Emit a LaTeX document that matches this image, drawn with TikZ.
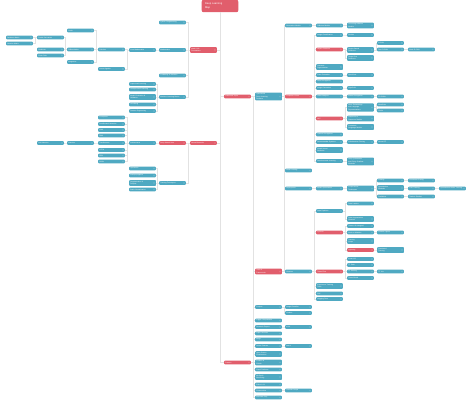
\documentclass[tikz,border=0pt]{standalone}
\usepackage{fontspec}
\setmainfont{Liberation Sans}
\usepackage{xcolor}

\definecolor{topicblue}{RGB}{79,169,194}
\definecolor{topicred}{RGB}{225,94,108}
\definecolor{linkgray}{RGB}{226,226,226}

\begin{document}
\begin{tikzpicture}[x=1pt, y=-1pt]
        % Define block styles
        \tikzstyle{topic} = [rectangle, rounded corners=0.8pt, fill=topicblue, text=white, anchor=west,
            inner xsep=1.2pt, inner ysep=1pt, minimum height=3.6pt, text width=24.3pt, align=left,
            font=\fontsize{1.7}{2.3}\selectfont,
            path picture={\draw[white, line width=0.15pt] ([xshift=-1.8pt, yshift=0.5pt]path picture bounding box.east) -- ++(0.5pt,-0.5pt) -- ++(-0.5pt,-0.5pt);}]
        \tikzstyle{hot} = [topic, fill=topicred]
        \tikzstyle{title} = [rectangle, rounded corners=2pt, fill=topicred, text=white, minimum width=36pt,
            minimum height=12pt, text width=30pt, align=left, font=\fontsize{2.6}{3.4}\selectfont]
        \tikzstyle{link} = [draw=linkgray, line width=0.35pt]
        \tikzstyle{rline} = [link, to path={(\tikztostart.east) -- ++(2pt,0) |- (\tikztotarget.west)}]
        \tikzstyle{lline} = [link, to path={(\tikztostart.west) -- ++(-2pt,0) |- (\tikztotarget.east)}]

        \useasboundingbox (0,0) rectangle (474,403);

        % Root
        \node [title] (root) at (220,6) {Deep Learning\\Map};

        % Left branch: foundations
        \node [hot] (fnd) at (190,50) {Math \& ML\\Foundations};
        \node [topic] (prog) at (159,22.5) {Python Programming};
        \node [topic] (maths) at (159,50) {Mathematics};
        \node [topic] (stats) at (159,75.5) {Probability \& Statistics};
        \node [topic] (mlbas) at (159,97) {Machine Learning Basics};
        \node [topic] (coremath) at (129,50) {Core Mathematics};
        \node [topic] (calc) at (98,49.5) {Calculus};
        \node [topic] (linalg) at (98,69) {Linear Algebra};
        \node [topic] (limits) at (67,30.5) {Limits};
        \node [topic] (diff) at (67,49.5) {Differentiation};
        \node [topic] (integ) at (67,62) {Integration};
        \node [topic] (partial) at (37,37.5) {Partial Derivatives};
        \node [topic] (grad) at (37,49.5) {Gradients};
        \node [topic] (chain) at (37,55.5) {Chain Rule};
        \node [topic] (jacob) at (6,37.5) {Jacobian Matrix};
        \node [topic] (hess) at (6,43.5) {Hessian Matrix};
        \node [topic] (superv) at (129,84) {Supervised Learning};
        \node [topic] (unsup) at (129,89.5) {Unsupervised Learning};
        \node [topic] (evalu) at (129,97) {Model Evaluation \&\\Validation};
        \node [topic] (overfit) at (129,104.5) {Overfitting};
        \node [topic] (feat) at (129,111) {Feature Engineering};

        % Left branch: networks
        \node [hot] (nets) at (190,143) {Neural Networks};
        \node [hot] (deepnn) at (159,143) {Deep Neural Nets};
        \node [topic] (arch) at (129,143) {Architectures};
        \node [topic] (percep) at (98,117.5) {Perceptron};
        \node [topic] (ffn) at (98,124) {Feedforward Networks};
        \node [topic] (cnn) at (98,130) {CNN};
        \node [topic] (rnn) at (98,135.5) {RNN};
        \node [topic] (transf) at (98,143) {Transformers};
        \node [topic] (lstm) at (98,150) {LSTM};
        \node [topic] (gru) at (98,155.5) {GRU};
        \node [topic] (gan) at (98,161.5) {GANs};
        \node [topic] (attn) at (67,143) {Attention};
        \node [topic] (selfattn) at (37,143) {Self-Attention};
        \node [topic] (train) at (159,183) {Training Techniques};
        \node [topic] (optim) at (129,168.5) {Optimizers};
        \node [topic] (backprop) at (129,175.5) {Backpropagation};
        \node [topic] (regul) at (129,183) {Regularization \&\\Dropout};
        \node [topic] (bnorm) at (129,189.5) {Batch Normalization};

        % Right branch: advanced topics
        \node [hot] (adv) at (224,96.5) {Advanced Topics};
        \node [topic] (domains) at (255,96.5) {Specialized\\Deep Learning\\Domains};
        \node [topic] (genmod) at (285,25.5) {Generative Models};
        \node [topic] (diffm) at (316,25.5) {Diffusion Models};
        \node [topic] (ddpm) at (347,25.5) {Denoising Diffusion\\Models};
        \node [hot] (cv) at (285,96.5) {Computer Vision};
        \node [topic] (imgcls) at (316,35) {Image Classification};
        \node [topic] (resnet) at (347,35) {ResNet};
        \node [hot] (objdet) at (316,49.5) {Object Detection};
        \node [topic] (region) at (347,50) {Region-Based\\Detectors};
        \node [topic] (single) at (347,58) {Single-Shot\\Detectors};
        \node [topic] (rcnn) at (377,43) {R-CNN};
        \node [topic] (fastrcnn) at (377,49.5) {Fast R-CNN};
        \node [topic] (maskrcnn) at (408,49.5) {Mask R-CNN};
        \node [topic] (semseg) at (316,67) {Semantic\\Segmentation};
        \node [topic] (pose) at (316,75) {Pose Estimation};
        \node [topic] (openpose) at (347,75) {OpenPose};
        \node [topic] (face) at (316,81.5) {Face Recognition};
        \node [topic] (imggen) at (316,88) {Image Generation};
        \node [topic] (stylegan) at (347,88) {StyleGAN};
        \node [topic] (video) at (316,96.5) {Video Analysis};
        \node [topic] (action) at (347,96.5) {Action Recognition};
        \node [topic] (cnn3d) at (377,96.5) {3D CNNs};
        \node [hot] (nlp) at (316,118.5) {NLP};
        \node [topic] (embed) at (347,107.5) {Word Embeddings\\and Language\\Representations};
        \node [topic] (wvec) at (377,104.5) {Word2Vec};
        \node [topic] (glove) at (377,110.5) {GloVe};
        \node [topic] (seqseq) at (347,118.5) {Sequence to\\Sequence Models};
        \node [topic] (plm) at (347,127) {Pretrained\\Language Models};
        \node [topic] (speech) at (316,134.5) {Speech Recognition};
        \node [topic] (recsys) at (316,142) {Recommender Systems};
        \node [topic] (collab) at (347,142) {Collaborative Filtering};
        \node [topic] (ncf) at (377,142) {Neural CF};
        \node [topic] (gnn) at (316,150) {Graph Neural\\Networks};
        \node [topic] (rl) at (316,161) {Reinforcement Learning};
        \node [topic] (dqn) at (347,161.5) {Deep Q-Networks\\and Policy Gradient\\Methods};
        \node [topic] (meta) at (285,170.5) {Meta Learning};
        \node [topic] (deploy) at (285,188.5) {Deployment};
        \node [topic] (modopt) at (316,188.5) {Model Optimization};
        \node [topic] (compr) at (347,188.5) {Compression\\Techniques};
        \node [topic] (prune) at (377,180.5) {Pruning};
        \node [topic] (sprune) at (408,180.5) {Structured Pruning};
        \node [topic] (quant) at (377,188) {Quantization\\Methods};
        \node [topic] (ptq) at (408,188.5) {Post-Training};
        \node [topic] (qat) at (439,188.5) {Quantization-Aware Training};
        \node [topic] (distill) at (377,196.5) {Distillation};
        \node [topic] (teacher) at (408,196.5) {Teacher-Student};

        % Right branch: tools
        \node [hot] (tools) at (255,271.5) {Tools \&\\Frameworks};
        \node [topic] (libs) at (285,271.5) {Libraries};
        \node [topic] (datapipe) at (316,211) {Data Pipelines};
        \node [topic] (loaders) at (347,203.5) {Data Loaders};
        \node [topic] (augment) at (347,219) {Data Augmentation\\Libraries};
        \node [hot] (torch) at (316,232.5) {PyTorch};
        \node [topic] (autograd) at (347,226) {Tensors \& Autograd};
        \node [topic] (nnmod) at (347,232.5) {torch.nn Modules};
        \node [topic] (custom) at (377,232.5) {Custom Layers};
        \node [topic] (loops) at (347,241) {Training\\Loops};
        \node [hot] (lightning) at (347,250) {Lightning};
        \node [topic] (distrib) at (377,250) {Distributed\\Training};
        \node [hot] (tflow) at (316,271.5) {TensorFlow};
        \node [topic] (keras) at (347,259) {Keras API};
        \node [topic] (tfdata) at (347,265) {TF Data};
        \node [topic] (serving) at (347,271.5) {TF Serving};
        \node [topic] (tflite) at (377,271.5) {TF Lite};
        \node [topic] (tboard) at (347,278) {TensorBoard};
        \node [topic] (tracking) at (316,286) {Experiment Tracking\\Tools};
        \node [topic] (jax) at (316,293.5) {JAX};
        \node [topic] (hface) at (316,299) {Hugging Face};

        % Right branch: practice
        \node [hot] (practice) at (224,362.5) {Practice};
        \node [topic] (projects) at (255,307) {Projects};
        \node [topic] (imgclf) at (285,307) {Image Classifier};
        \node [topic] (chatbot) at (285,313) {Chatbot};
        \node [topic] (kaggle) at (255,320.5) {Kaggle Competitions};
        \node [topic] (papers) at (255,327) {Research Papers};
        \node [topic] (arxiv) at (285,327) {arXiv};
        \node [topic] (reviews) at (255,333.5) {Paper Reviews};
        \node [topic] (blogs) at (255,339.5) {Blogs};
        \node [topic] (courses) at (255,346) {Online Courses};
        \node [topic] (fastai) at (285,346) {fast.ai};
        \node [topic] (oss) at (255,354) {Open Source\\Contributions};
        \node [topic] (portf) at (255,362.5) {Portfolio \&\\GitHub};
        \node [topic] (cloud) at (255,369.5) {Cloud Platforms};
        \node [topic] (mlops) at (255,377) {MLOps \&\\Monitoring};
        \node [topic] (ethics) at (255,384.5) {Ethics in AI};
        \node [topic] (comm) at (255,390.5) {Communities};
        \node [topic] (discord) at (285,390.5) {Discord Groups};
        \node [topic] (interv) at (255,397.5) {Interview Prep};

        % Connect root
        \draw [link] (root.south) |- (fnd.east);
        \draw [link] (root.south) |- (nets.east);
        \draw [link] (root.south) |- (adv.west);
        \draw [link] (root.south) |- (practice.west);

        % Connect left side
        \path [lline] (fnd) to (prog) (fnd) to (maths) (fnd) to (stats) (fnd) to (mlbas);
        \path [lline] (maths) to (coremath);
        \path [lline] (coremath) to (calc) (coremath) to (linalg);
        \path [lline] (calc) to (limits) (calc) to (diff) (calc) to (integ);
        \path [lline] (diff) to (partial) (diff) to (grad) (diff) to (chain);
        \path [lline] (partial) to (jacob) (partial) to (hess);
        \path [lline] (mlbas) to (superv) (mlbas) to (unsup) (mlbas) to (evalu) (mlbas) to (overfit) (mlbas) to (feat);
        \path [lline] (nets) to (deepnn) (nets) to (train);
        \path [lline] (deepnn) to (arch);
        \path [lline] (arch) to (percep) (arch) to (ffn) (arch) to (cnn) (arch) to (rnn)
                      (arch) to (transf) (arch) to (lstm) (arch) to (gru) (arch) to (gan);
        \path [lline] (transf) to (attn);
        \path [lline] (attn) to (selfattn);
        \path [lline] (train) to (optim) (train) to (backprop) (train) to (regul) (train) to (bnorm);

        % Connect right side
        \path [rline] (adv) to (domains) (adv) to (tools);
        \path [rline] (domains) to (genmod) (domains) to (cv) (domains) to (meta) (domains) to (deploy) (domains) to (libs);
        \path [rline] (genmod) to (diffm);
        \path [rline] (diffm) to (ddpm);
        \path [rline] (cv) to (imgcls) (cv) to (objdet) (cv) to (semseg) (cv) to (pose) (cv) to (face) (cv) to (imggen)
                      (cv) to (video) (cv) to (nlp) (cv) to (speech) (cv) to (recsys) (cv) to (gnn) (cv) to (rl);
        \path [rline] (imgcls) to (resnet);
        \path [rline] (objdet) to (region) (objdet) to (single);
        \path [rline] (region) to (rcnn) (region) to (fastrcnn);
        \path [rline] (fastrcnn) to (maskrcnn);
        \path [rline] (pose) to (openpose);
        \path [rline] (imggen) to (stylegan);
        \path [rline] (video) to (action);
        \path [rline] (action) to (cnn3d);
        \path [rline] (nlp) to (embed) (nlp) to (seqseq) (nlp) to (plm);
        \path [rline] (embed) to (wvec) (embed) to (glove);
        \path [rline] (recsys) to (collab);
        \path [rline] (collab) to (ncf);
        \path [rline] (rl) to (dqn);
        \path [rline] (deploy) to (modopt);
        \path [rline] (modopt) to (compr);
        \path [rline] (compr) to (prune) (compr) to (quant) (compr) to (distill);
        \path [rline] (prune) to (sprune);
        \path [rline] (quant) to (ptq);
        \path [rline] (ptq) to (qat);
        \path [rline] (distill) to (teacher);
        \path [rline] (tools) to (libs);
        \path [rline] (libs) to (datapipe) (libs) to (torch) (libs) to (tflow) (libs) to (tracking) (libs) to (jax) (libs) to (hface);
        \path [rline] (datapipe) to (loaders) (datapipe) to (augment);
        \path [rline] (torch) to (autograd) (torch) to (nnmod) (torch) to (loops) (torch) to (lightning);
        \path [rline] (nnmod) to (custom);
        \path [rline] (lightning) to (distrib);
        \path [rline] (tflow) to (keras) (tflow) to (tfdata) (tflow) to (serving) (tflow) to (tboard);
        \path [rline] (serving) to (tflite);
        \path [rline] (practice) to (tools) (practice) to (projects) (practice) to (kaggle) (practice) to (papers) (practice) to (reviews)
                      (practice) to (blogs) (practice) to (courses) (practice) to (oss) (practice) to (portf)
                      (practice) to (cloud) (practice) to (mlops) (practice) to (ethics) (practice) to (comm) (practice) to (interv);
        \path [rline] (projects) to (imgclf) (projects) to (chatbot);
        \path [rline] (papers) to (arxiv);
        \path [rline] (courses) to (fastai);
        \path [rline] (comm) to (discord);

    \end{tikzpicture}
\end{document}
